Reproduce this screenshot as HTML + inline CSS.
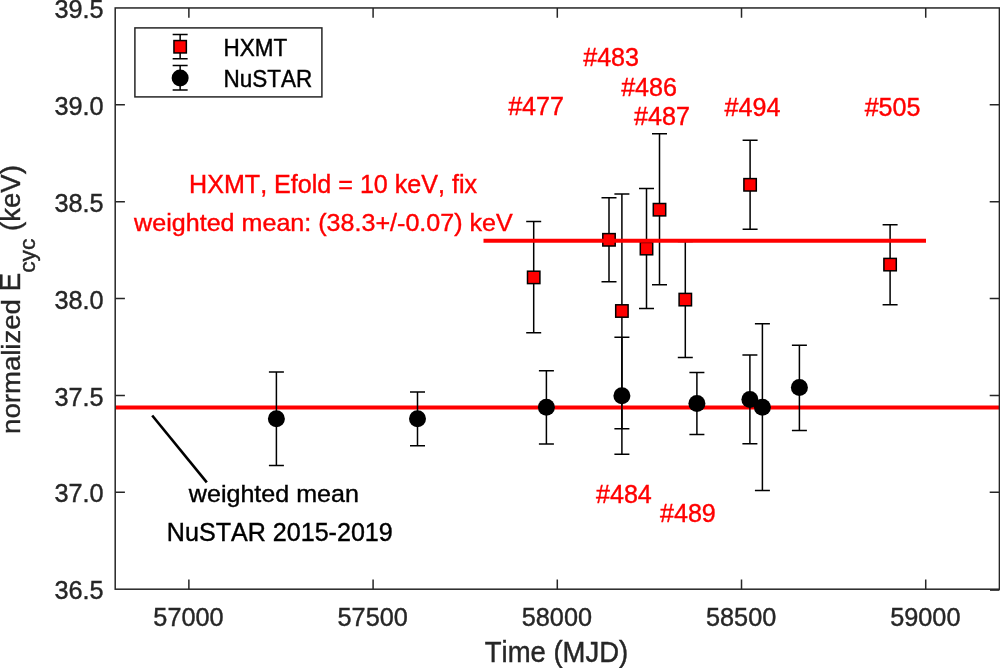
<!DOCTYPE html>
<html><head><meta charset="utf-8"><title>Ecyc vs time</title>
<style>
html,body{margin:0;padding:0;background:#fff;}
body{width:1000px;height:668px;overflow:hidden;}
svg{display:block;font-family:"Liberation Sans",Arial,Helvetica,sans-serif;font-kerning:none;font-feature-settings:"kern" 0;}
</style></head><body>
<svg width="1000" height="668" viewBox="0 0 1000 668">
<rect width="1000" height="668" fill="#fff"/>
<rect x="115.2" y="7.95" width="884.20" height="581.25" fill="#fff" stroke="none"/>
<path d="M188.88 589.20v-9.7M188.88 7.95v9.7M373.09 589.20v-9.7M373.09 7.95v9.7M557.30 589.20v-9.7M557.30 7.95v9.7M741.51 589.20v-9.7M741.51 7.95v9.7M925.72 589.20v-9.7M925.72 7.95v9.7M115.20 104.83h9.7M999.40 104.83h-9.7M115.20 201.70h9.7M999.40 201.70h-9.7M115.20 298.57h9.7M999.40 298.57h-9.7M115.20 395.45h9.7M999.40 395.45h-9.7M115.20 492.32h9.7M999.40 492.32h-9.7" stroke="#262626" stroke-width="1.5" fill="none"/>
<path d="M533.70 221.60V332.70M526.20 221.60H541.20M526.20 332.70H541.20" stroke="#000" stroke-width="1.5" fill="none"/>
<rect x="527.50" y="271.20" width="12.4" height="12.4" fill="#f00" stroke="#000" stroke-width="1.5"/>
<path d="M609.00 197.80V281.80M601.50 197.80H616.50M601.50 281.80H616.50" stroke="#000" stroke-width="1.5" fill="none"/>
<rect x="602.80" y="233.60" width="12.4" height="12.4" fill="#f00" stroke="#000" stroke-width="1.5"/>
<path d="M621.90 194.00V428.80M614.40 194.00H629.40M614.40 428.80H629.40" stroke="#000" stroke-width="1.5" fill="none"/>
<rect x="615.70" y="304.80" width="12.4" height="12.4" fill="#f00" stroke="#000" stroke-width="1.5"/>
<path d="M646.50 188.50V308.50M639.00 188.50H654.00M639.00 308.50H654.00" stroke="#000" stroke-width="1.5" fill="none"/>
<rect x="640.30" y="242.40" width="12.4" height="12.4" fill="#f00" stroke="#000" stroke-width="1.5"/>
<path d="M659.50 133.80V284.80M652.00 133.80H667.00M652.00 284.80H667.00" stroke="#000" stroke-width="1.5" fill="none"/>
<rect x="653.30" y="203.50" width="12.4" height="12.4" fill="#f00" stroke="#000" stroke-width="1.5"/>
<path d="M685.30 241.50V357.50M677.80 241.50H692.80M677.80 357.50H692.80" stroke="#000" stroke-width="1.5" fill="none"/>
<rect x="679.10" y="293.40" width="12.4" height="12.4" fill="#f00" stroke="#000" stroke-width="1.5"/>
<path d="M750.10 140.20V229.30M742.60 140.20H757.60M742.60 229.30H757.60" stroke="#000" stroke-width="1.5" fill="none"/>
<rect x="743.90" y="178.60" width="12.4" height="12.4" fill="#f00" stroke="#000" stroke-width="1.5"/>
<path d="M890.10 224.70V304.70M882.60 224.70H897.60M882.60 304.70H897.60" stroke="#000" stroke-width="1.5" fill="none"/>
<rect x="883.90" y="258.40" width="12.4" height="12.4" fill="#f00" stroke="#000" stroke-width="1.5"/>
<path d="M483.5 240.7H926" stroke="#f00" stroke-width="4"/>
<path d="M115.2 407.45H999.4" stroke="#f00" stroke-width="4"/>
<path d="M276.40 372.10V465.60M268.90 372.10H283.90M268.90 465.60H283.90" stroke="#000" stroke-width="1.5" fill="none"/>
<circle cx="276.4" cy="418.7" r="8.5" fill="#000"/>
<path d="M417.50 391.90V445.80M410.00 391.90H425.00M410.00 445.80H425.00" stroke="#000" stroke-width="1.5" fill="none"/>
<circle cx="417.5" cy="418.7" r="8.5" fill="#000"/>
<path d="M546.40 370.80V443.90M538.90 370.80H553.90M538.90 443.90H553.90" stroke="#000" stroke-width="1.5" fill="none"/>
<circle cx="546.4" cy="407.2" r="8.5" fill="#000"/>
<path d="M621.90 337.30V454.20M614.40 337.30H629.40M614.40 454.20H629.40" stroke="#000" stroke-width="1.5" fill="none"/>
<circle cx="621.9" cy="395.7" r="8.5" fill="#000"/>
<path d="M696.90 372.40V434.60M689.40 372.40H704.40M689.40 434.60H704.40" stroke="#000" stroke-width="1.5" fill="none"/>
<circle cx="696.9" cy="403.6" r="8.5" fill="#000"/>
<path d="M749.90 354.90V443.70M742.40 354.90H757.40M742.40 443.70H757.40" stroke="#000" stroke-width="1.5" fill="none"/>
<circle cx="749.9" cy="399.6" r="8.5" fill="#000"/>
<path d="M762.40 323.70V490.60M754.90 323.70H769.90M754.90 490.60H769.90" stroke="#000" stroke-width="1.5" fill="none"/>
<circle cx="762.4" cy="407.3" r="8.5" fill="#000"/>
<path d="M799.40 345.30V430.60M791.90 345.30H806.90M791.90 430.60H806.90" stroke="#000" stroke-width="1.5" fill="none"/>
<circle cx="799.4" cy="387.6" r="8.5" fill="#000"/>
<path d="M152.2 415.5L206.8 482.4" stroke="#000" stroke-width="2.6"/>
<path d="M990 590.1H999.4" stroke="#262626" stroke-width="1.5"/>
<rect x="115.2" y="7.95" width="884.20" height="581.25" fill="none" stroke="#262626" stroke-width="1.5"/>
<text transform="translate(536.05 115.0) scale(1 1.045)" fill="#f00" stroke="#f00" stroke-width="0.4" font-size="25.1" text-anchor="middle">#477</text>
<text transform="translate(611.1 66.3) scale(1 1.045)" fill="#f00" stroke="#f00" stroke-width="0.4" font-size="25.1" text-anchor="middle">#483</text>
<text transform="translate(649.05 96.0) scale(1 1.045)" fill="#f00" stroke="#f00" stroke-width="0.4" font-size="25.1" text-anchor="middle">#486</text>
<text transform="translate(662.0 124.8) scale(1 1.045)" fill="#f00" stroke="#f00" stroke-width="0.4" font-size="25.1" text-anchor="middle">#487</text>
<text transform="translate(752.5 115.6) scale(1 1.045)" fill="#f00" stroke="#f00" stroke-width="0.4" font-size="25.1" text-anchor="middle">#494</text>
<text transform="translate(892.55 115.6) scale(1 1.045)" fill="#f00" stroke="#f00" stroke-width="0.4" font-size="25.1" text-anchor="middle">#505</text>
<text transform="translate(623.9 502.7) scale(1 1.045)" fill="#f00" stroke="#f00" stroke-width="0.4" font-size="25.1" text-anchor="middle">#484</text>
<text transform="translate(687.9 521.9) scale(1 1.045)" fill="#f00" stroke="#f00" stroke-width="0.4" font-size="25.1" text-anchor="middle">#489</text>
<text transform="translate(333.05 192.8) scale(1 1.03)" fill="#f00" stroke="#f00" stroke-width="0.4" font-size="25.1" text-anchor="middle">HXMT, Efold = 10 keV, fix</text>
<text transform="translate(323.45 231.2) scale(1 0.98)" fill="#f00" stroke="#f00" stroke-width="0.4" font-size="25.1" text-anchor="middle">weighted mean: (38.3+/-0.07) keV</text>
<text transform="translate(273.9 502.4) scale(1 0.955)" fill="#000" stroke="#000" stroke-width="0.4" font-size="25.1" text-anchor="middle">weighted mean</text>
<text transform="translate(279.8 541.2) scale(1 1.045)" fill="#000" stroke="#000" stroke-width="0.4" font-size="25.1" text-anchor="middle">NuSTAR 2015-2019</text>
<rect x="134.9" y="27.9" width="187" height="69" fill="#fff" stroke="#262626" stroke-width="1.5"/>
<path d="M180.15 34.60V58.80M172.65 34.60H187.65M172.65 58.80H187.65" stroke="#000" stroke-width="1.5" fill="none"/>
<rect x="173.95" y="40.55" width="12.4" height="12.4" fill="#f00" stroke="#000" stroke-width="1.5"/>
<path d="M180.15 65.60V90.00M172.65 65.60H187.65M172.65 90.00H187.65" stroke="#000" stroke-width="1.5" fill="none"/>
<circle cx="180.15" cy="78" r="8.5" fill="#000"/>
<text transform="translate(223.5 56.0) scale(1 1.09)" fill="#000" stroke="#000" stroke-width="0.4" font-size="22.5" text-anchor="start">HXMT</text>
<text transform="translate(223.5 86.8) scale(1 1.09)" fill="#000" stroke="#000" stroke-width="0.4" font-size="22.5" text-anchor="start">NuSTAR</text>
<text transform="translate(188.48 625.8) scale(1 1.045)" fill="#262626" stroke="#262626" stroke-width="0.4" font-size="25.3" text-anchor="middle">57000</text>
<text transform="translate(372.69 625.8) scale(1 1.045)" fill="#262626" stroke="#262626" stroke-width="0.4" font-size="25.3" text-anchor="middle">57500</text>
<text transform="translate(556.90 625.8) scale(1 1.045)" fill="#262626" stroke="#262626" stroke-width="0.4" font-size="25.3" text-anchor="middle">58000</text>
<text transform="translate(741.11 625.8) scale(1 1.045)" fill="#262626" stroke="#262626" stroke-width="0.4" font-size="25.3" text-anchor="middle">58500</text>
<text transform="translate(925.32 625.8) scale(1 1.045)" fill="#262626" stroke="#262626" stroke-width="0.4" font-size="25.3" text-anchor="middle">59000</text>
<text transform="translate(103.6 18.05) scale(1 1.045)" fill="#262626" stroke="#262626" stroke-width="0.4" font-size="25.3" text-anchor="end">39.5</text>
<text transform="translate(103.6 114.92) scale(1 1.045)" fill="#262626" stroke="#262626" stroke-width="0.4" font-size="25.3" text-anchor="end">39.0</text>
<text transform="translate(103.6 211.80) scale(1 1.045)" fill="#262626" stroke="#262626" stroke-width="0.4" font-size="25.3" text-anchor="end">38.5</text>
<text transform="translate(103.6 308.68) scale(1 1.045)" fill="#262626" stroke="#262626" stroke-width="0.4" font-size="25.3" text-anchor="end">38.0</text>
<text transform="translate(103.6 405.55) scale(1 1.045)" fill="#262626" stroke="#262626" stroke-width="0.4" font-size="25.3" text-anchor="end">37.5</text>
<text transform="translate(103.6 502.43) scale(1 1.045)" fill="#262626" stroke="#262626" stroke-width="0.4" font-size="25.3" text-anchor="end">37.0</text>
<text transform="translate(103.6 599.30) scale(1 1.045)" fill="#262626" stroke="#262626" stroke-width="0.4" font-size="25.3" text-anchor="end">36.5</text>
<text transform="translate(556.5 661.9) scale(1 1.045)" fill="#262626" stroke="#262626" stroke-width="0.4" font-size="27.5" text-anchor="middle">Time (MJD)</text>
<text transform="translate(19.90 433.94) rotate(-90) scale(1 0.94)" fill="#262626" stroke="#262626" stroke-width="0.4" font-size="27.6">normalized</text>
<text transform="translate(19.90 291.28) rotate(-90) scale(1 1.06)" fill="#262626" stroke="#262626" stroke-width="0.4" font-size="27.6">E</text>
<text transform="translate(34.60 272.87) rotate(-90) scale(1 1.0)" fill="#262626" stroke="#262626" stroke-width="0.4" font-size="22.8">cyc</text>
<text transform="translate(19.90 231.00) rotate(-90) scale(1 0.98)" fill="#262626" stroke="#262626" stroke-width="0.4" font-size="27.6">(keV)</text>
</svg>
</body></html>
